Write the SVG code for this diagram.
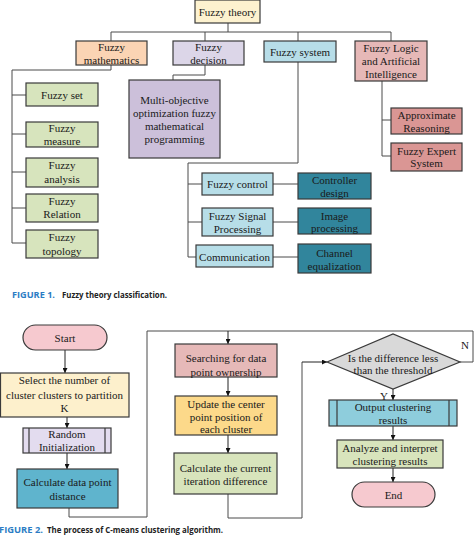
<svg xmlns="http://www.w3.org/2000/svg" width="474" height="536" viewBox="0 0 474 536">
<defs>
<style>
.b{stroke:#3a3a3a;stroke-width:1.2}
.t{font-family:'Liberation Serif','Times New Roman','DejaVu Serif',serif;font-size:11px;fill:#1a1a1a;text-anchor:middle}
.c{fill:none;stroke:#4a4a4a;stroke-width:1}
.a{fill:none;stroke:#222;stroke-width:1;marker-end:url(#ah)}
.cap{font-family:'Open Sans','Liberation Sans',sans-serif;font-size:8.5px;font-weight:bold}
</style>
<marker id="ah" viewBox="0 0 10 10" refX="10" refY="5" markerWidth="5" markerHeight="5" orient="auto" markerUnits="userSpaceOnUse">
<path d="M0,0 L10,5 L0,10 z" fill="#111"/>
</marker>
</defs>
<rect width="474" height="536" fill="#fff"/>

<!-- Figure 1 connectors -->
<g id="connectors1">
<path class="c" d="M228,23 V32 M111,32 H391 M111,32 V41 M205,32 V41 M298,32 V41 M391,32 V41"/>
<path class="c" d="M111,65 V70 H12 V243 M12,95 H26 M12,134 H26 M12,172 H26 M12,208 H26 M12,243 H26"/>
<path class="c" d="M205,65 V75 H173 V80"/>
<path class="c" d="M298,62 V163 H188 V257 M188,184 H202 M188,222 H202 M188,257 H196"/>
<path class="c" d="M273,184 H298 M273,222 H298 M273,257 H298"/>
<path class="c" d="M382,81 V156 H391 M382,120 H391"/>
</g>

<g font-family="Liberation Serif, Times New Roman, serif">
<g id="n_fuzzy_theory"><rect class="b" x="195" y="0" width="65" height="23" fill="#fdf2cf"/><text class="t" x="227.5" y="15.5">Fuzzy theory</text></g>
<g id="n_fuzzy_math"><rect class="b" x="76" y="41" width="71" height="24" fill="#fbd4b4"/><text class="t" x="111.5" y="51">Fuzzy</text><text class="t" x="111.5" y="64">mathematics</text></g>
<g id="n_fuzzy_decision"><rect class="b" x="173" y="41" width="71" height="24" fill="#dcd6e8"/><text class="t" x="208.5" y="51">Fuzzy</text><text class="t" x="208.5" y="64">decision</text></g>
<g id="n_fuzzy_system"><rect class="b" x="264" y="41" width="72" height="21" fill="#b7dde8"/><text class="t" x="300" y="56">Fuzzy system</text></g>
<g id="n_fuzzy_logic"><rect class="b" x="355" y="41" width="72" height="40" fill="#e6b8b7"/><text class="t" x="391" y="52">Fuzzy Logic</text><text class="t" x="391" y="65">and Artificial</text><text class="t" x="391" y="78">Intelligence</text></g>

<g id="n_fuzzy_set"><rect class="b" x="26" y="83" width="72" height="23" fill="#d7e4bd"/><text class="t" x="62" y="99">Fuzzy set</text></g>
<g id="n_fuzzy_measure"><rect class="b" x="26" y="122" width="72" height="25" fill="#d7e4bd"/><text class="t" x="62" y="132">Fuzzy</text><text class="t" x="62" y="145">measure</text></g>
<g id="n_fuzzy_analysis"><rect class="b" x="26" y="158" width="72" height="29" fill="#d7e4bd"/><text class="t" x="62" y="169">Fuzzy</text><text class="t" x="62" y="183">analysis</text></g>
<g id="n_fuzzy_relation"><rect class="b" x="26" y="194" width="72" height="28" fill="#d7e4bd"/><text class="t" x="62" y="205">Fuzzy</text><text class="t" x="62" y="218">Relation</text></g>
<g id="n_fuzzy_topology"><rect class="b" x="26" y="230" width="72" height="28" fill="#d7e4bd"/><text class="t" x="62" y="241">Fuzzy</text><text class="t" x="62" y="255">topology</text></g>

<g id="n_multi"><rect class="b" x="129" y="80" width="91" height="78" fill="#ccc0da"/><text class="t" x="174.5" y="104">Multi-objective</text><text class="t" x="174.5" y="117">optimization fuzzy</text><text class="t" x="174.5" y="130">mathematical</text><text class="t" x="174.5" y="143">programming</text></g>

<g id="n_fuzzy_control"><rect class="b" x="202" y="173" width="71" height="22" fill="#b7dee8"/><text class="t" x="237.5" y="188">Fuzzy control</text></g>
<g id="n_fuzzy_signal"><rect class="b" x="202" y="208" width="71" height="28" fill="#b7dee8"/><text class="t" x="237.5" y="220">Fuzzy Signal</text><text class="t" x="237.5" y="233">Processing</text></g>
<g id="n_communication"><rect class="b" x="196" y="245" width="77" height="22" fill="#b7dee8"/><text class="t" x="234.5" y="261">Communication</text></g>

<g id="n_controller"><rect class="b" x="298" y="173" width="73" height="26" fill="#31859c"/><text class="t" x="334.5" y="184">Controller</text><text class="t" x="334.5" y="197">design</text></g>
<g id="n_image"><rect class="b" x="298" y="208" width="73" height="26" fill="#31859c"/><text class="t" x="334.5" y="220">Image</text><text class="t" x="334.5" y="232">processing</text></g>
<g id="n_channel"><rect class="b" x="298" y="244" width="73" height="29" fill="#31859c"/><text class="t" x="334.5" y="257">Channel</text><text class="t" x="334.5" y="270">equalization</text></g>

<g id="n_approx"><rect class="b" x="391" y="108" width="71" height="26" fill="#da9694"/><text class="t" x="426.5" y="119">Approximate</text><text class="t" x="426.5" y="132">Reasoning</text></g>
<g id="n_expert"><rect class="b" x="391" y="143" width="71" height="28" fill="#da9694"/><text class="t" x="426.5" y="155">Fuzzy Expert</text><text class="t" x="426.5" y="167">System</text></g>
</g>

<text class="cap" x="12" y="298"><tspan fill="#2b7cc4" textLength="43" lengthAdjust="spacingAndGlyphs">FIGURE 1.</tspan><tspan x="62" fill="#222" textLength="105" lengthAdjust="spacingAndGlyphs">Fuzzy theory classification.</tspan></text>

<!-- Figure 2 connectors -->
<g id="connectors2">
<path class="a" d="M65,350 V373"/>
<path class="a" d="M67,417 V428"/>
<path class="a" d="M67,453 V469"/>
<path class="c" d="M69,508 V517 H147 V331 H473 V362 H460"/>
<path class="a" d="M228,331 V344"/>
<path class="a" d="M228,377 V396"/>
<path class="a" d="M228,435 V453"/>
<path class="c" d="M228,494 V518 H302 V362"/>
<path class="a" d="M302,362 H327"/>
<path class="a" d="M393,389 V400"/>
<path class="a" d="M393,426 V440"/>
<path class="a" d="M393,468 V482"/>
</g>

<g id="n_start"><rect class="b" x="23" y="325" width="84" height="25" rx="12.5" fill="#f6c9cf"/><text class="t" x="65" y="342">Start</text></g>
<g id="n_select"><rect class="b" x="0.5" y="373" width="128.5" height="44" fill="#fdf0cc"/><text class="t" x="64.5" y="384">Select the number of</text><text class="t" x="64.5" y="399">cluster clusters to partition</text><text class="t" x="64.5" y="412">K</text></g>
<g id="n_random"><rect class="b" x="23" y="428" width="88" height="25" fill="#e3dcef"/><path class="b" d="M29,428 V453 M105,428 V453" fill="none"/><text class="t" x="67" y="438">Random</text><text class="t" x="67" y="451">Initialization</text></g>
<g id="n_calcdist"><rect class="b" x="17" y="469" width="101" height="39" fill="#5fb4cd"/><text class="t" x="67.5" y="486">Calculate data point</text><text class="t" x="67.5" y="500">distance</text></g>

<g id="n_search"><rect class="b" x="175" y="344" width="102" height="33" fill="#e6b9b8"/><text class="t" x="226" y="362">Searching for data</text><text class="t" x="226" y="376">point ownership</text></g>
<g id="n_update"><rect class="b" x="175" y="396" width="102" height="39" fill="#fcd98a"/><text class="t" x="226" y="408">Update the center</text><text class="t" x="226" y="421">point position of</text><text class="t" x="226" y="433">each cluster</text></g>
<g id="n_calccur"><rect class="b" x="174" y="453" width="103" height="41" fill="#d8e4bc"/><text class="t" x="225.5" y="472">Calculate the current</text><text class="t" x="225.5" y="485">iteration difference</text></g>

<g id="n_decision"><path class="b" d="M327,362 L393,334 L460,362 L393,389 Z" fill="#d9d9d9"/><text class="t" x="393" y="362">Is the difference less</text><text class="t" x="393" y="374">than the threshold</text></g>
<text class="t" x="465" y="349">N</text>
<text class="t" x="384" y="400">Y</text>

<g id="n_output"><rect class="b" x="329" y="400" width="128" height="26" fill="#8ecddc"/><path class="b" d="M337,400 V426 M449,400 V426" fill="none"/><text class="t" x="393" y="411">Output clustering</text><text class="t" x="393" y="424">results</text></g>
<g id="n_analyze"><rect class="b" x="337" y="440" width="106" height="28" fill="#d8e4bc"/><text class="t" x="390" y="452">Analyze and interpret</text><text class="t" x="390" y="465">clustering results</text></g>
<g id="n_end"><rect class="b" x="352" y="482" width="83" height="25" rx="12.5" fill="#f6c9cf"/><text class="t" x="393.5" y="499">End</text></g>

<text class="cap" x="-1" y="533"><tspan fill="#2b7cc4" textLength="44" lengthAdjust="spacingAndGlyphs">FIGURE 2.</tspan><tspan x="47" fill="#222" textLength="176" lengthAdjust="spacingAndGlyphs">The process of C-means clustering algorithm.</tspan></text>
</svg>
